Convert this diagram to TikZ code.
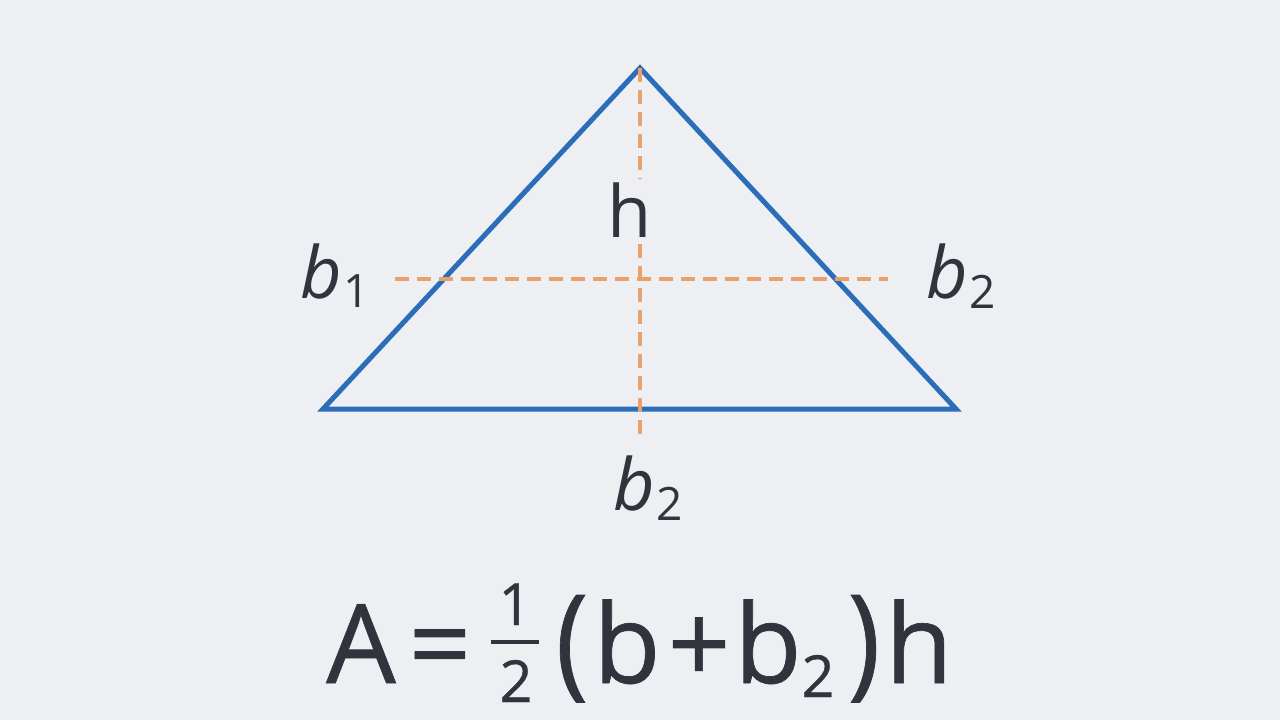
\documentclass[tikz,border=0pt]{standalone}
\usepackage{fontspec}
\setmainfont{Open Sans}
\newfontfamily\eqfont[FakeBold=0.6]{Open Sans}
\definecolor{bgcol}{HTML}{EDEFF2}
\definecolor{triblue}{HTML}{2B6DB9}
\definecolor{guideorange}{HTML}{E9A06B}
\definecolor{ink}{HTML}{30343D}
\newcommand{\lblsize}{\fontsize{72}{72}\selectfont}
\newcommand{\subsize}{\fontsize{46}{46}\selectfont}
\newcommand{\eqsize}{\eqfont\fontsize{110}{110}\selectfont}
\newcommand{\eqsubsize}{\eqfont\fontsize{58}{58}\selectfont}

\begin{document}
\begin{tikzpicture}[x=1pt,y=-1pt]

\tikzset{side/.style = {draw=triblue, line width=5pt, line join=miter}}
\tikzset{guide/.style = {draw=guideorange, line width=3.5pt, dash pattern=on 14pt off 8pt}}
\tikzset{lbl/.style = {inner sep=0pt, text=ink, anchor=base}}
\tikzset{eqpart/.style = {lbl, font=\eqsize}}
\tikzset{eqsmall/.style = {lbl, font=\eqsubsize}}

\fill[bgcol] (0,0) rectangle (1280,720);

%corners
\coordinate (top) at (640,68);
\coordinate (left) at (323,409);
\coordinate (right) at (956,409);
\coordinate (hfoot) at (640,440);
\coordinate (mleft) at (395,279);
\coordinate (mright) at (888,279);

\draw[side] (top) -- (left) -- (right) -- cycle;
\draw[guide] (top) -- (hfoot);
\draw[guide] (mleft) -- (mright);

%labels
\node[lbl, font=\lblsize, fill=bgcol, inner sep=3pt] (h) at (630,237) {h};
\node[lbl, anchor=base west, font=\lblsize] (b1) at (300,298)
  {\itshape b\hspace{2pt}\raisebox{-9pt}{\normalfont\subsize 1}};
\node[lbl, anchor=base west, font=\lblsize] (b2r) at (926,298)
  {\itshape b\hspace{2pt}\raisebox{-10pt}{\normalfont\subsize 2}};
\node[lbl, anchor=base west, font=\lblsize] (b2b) at (613,510)
  {\itshape b\hspace{2pt}\raisebox{-10pt}{\normalfont\subsize 2}};

%formula
\node[eqpart] (fA) at (361,683) {A};
\node[eqpart] (fEq) at (440,683) {=};
\node[eqsmall] (fOne) at (515,625) {1};
\node[eqsmall] (fTwo) at (516,702) {2};
\coordinate (barL) at (491,642);
\coordinate (barR) at (539,642);
\draw[ink, line width=4pt] (barL) -- (barR);
\node[eqpart] (fOpen) at (572,683) {\scalebox{1}[1.12]{(}};
\node[eqpart] (fB) at (627,683) {b};
\node[eqpart] (fPlus) at (699,683) {+};
\node[eqpart] (fB2) at (768,683) {b};
\node[eqsmall] (fSub) at (818,697) {2};
\node[eqpart] (fClose) at (864,683) {\scalebox{1}[1.12]{)}};
\node[eqpart] (fH) at (919,683) {h};

\end{tikzpicture}
\end{document}
